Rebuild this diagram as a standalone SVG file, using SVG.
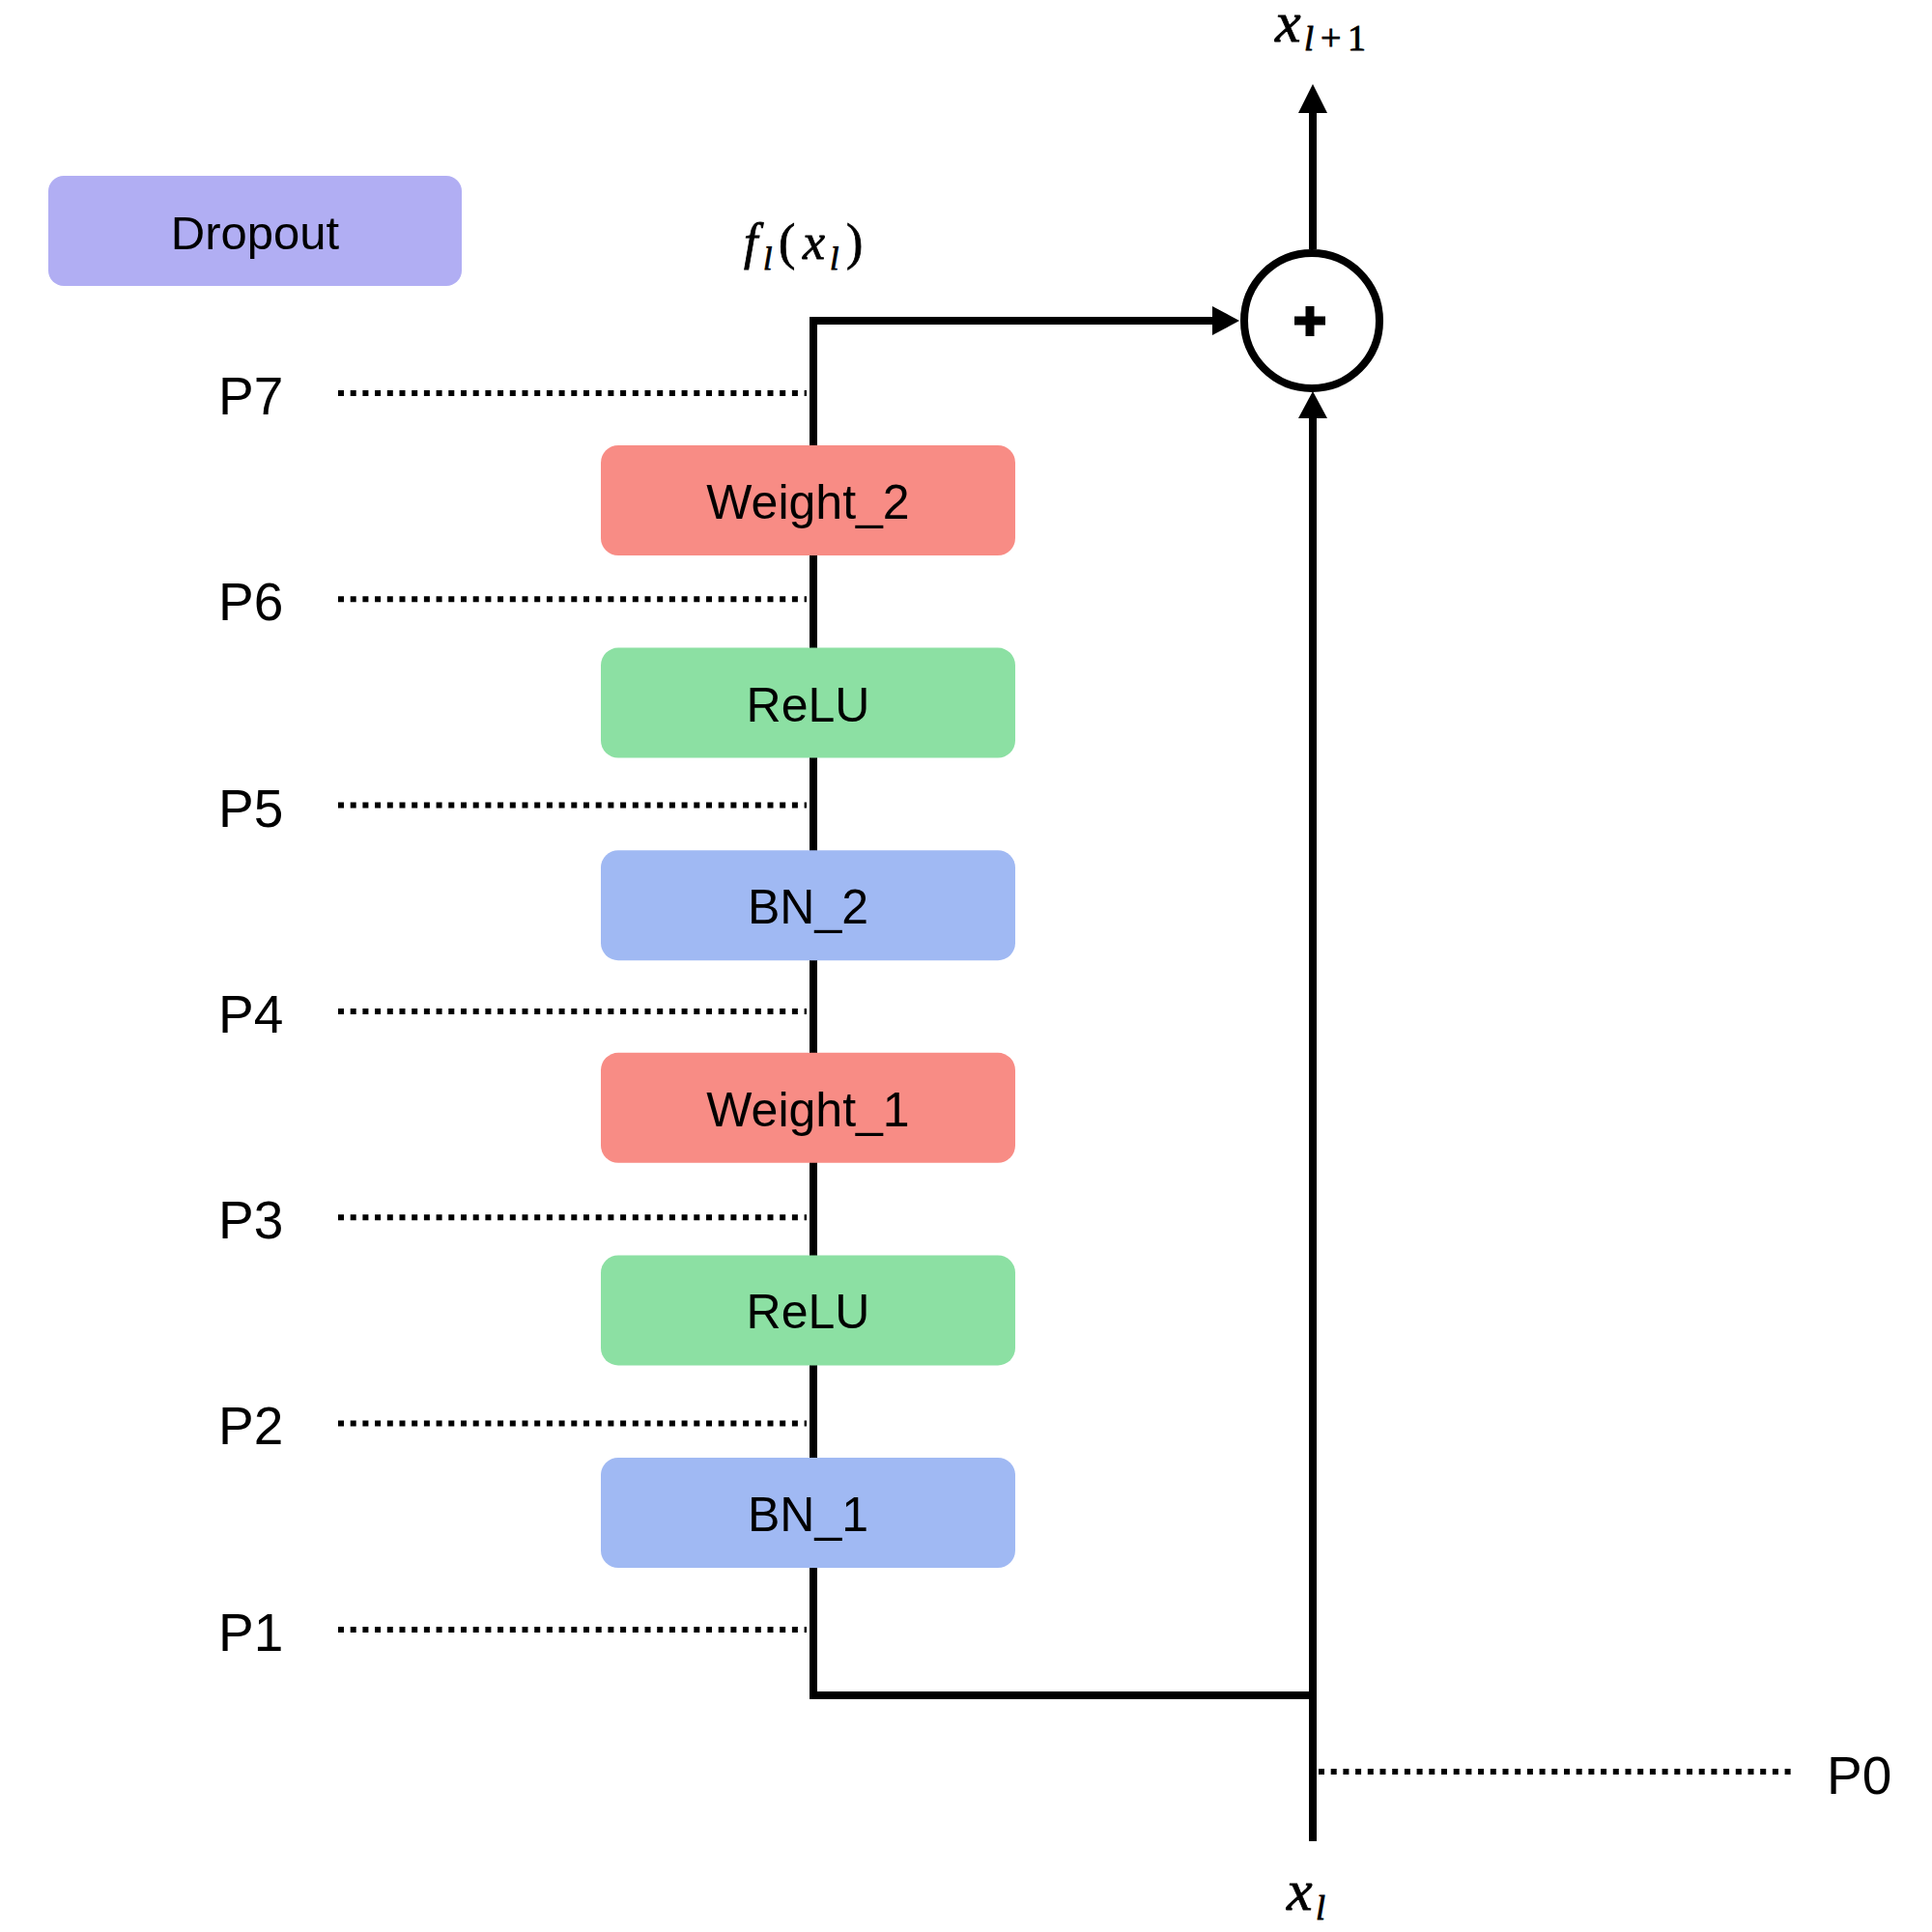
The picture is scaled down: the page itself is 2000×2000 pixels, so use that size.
<svg xmlns="http://www.w3.org/2000/svg" width="2000" height="2000" viewBox="0 0 2000 2000">
<style>
.box{stroke:none}
.lbl{font-family:"Liberation Sans",Arial,sans-serif;font-size:50px;fill:#000;text-anchor:middle}
.plbl{font-family:"Liberation Sans",Arial,sans-serif;font-size:55px;fill:#000}
.dot{stroke:#000;stroke-width:6;stroke-dasharray:6 6.7;fill:none}
.wire{stroke:#000;stroke-width:8;fill:none}
.math{font-family:"Liberation Serif","Times New Roman",serif;font-style:italic;fill:#000;stroke:#000;stroke-width:0.8}
.up{font-style:normal}
</style>
<rect width="2000" height="2000" fill="#fff"/>

<g id="connectors">
<path class="wire" d="M842,1755 L842,332 L1255,332"/>
<path class="wire" d="M838,1755 L1359,1755"/>
<line class="wire" x1="1359" y1="1906" x2="1359" y2="431"/>
<line class="wire" x1="1359" y1="258" x2="1359" y2="116"/>
<polygon points="1255,317 1283,332 1255,347" fill="#000"/>
<polygon points="1344,433 1359,405 1374,433" fill="#000"/>
<polygon points="1344,117 1359,87 1374,117" fill="#000"/>
</g>

<g id="dotted-lines">
<line class="dot" x1="350" y1="407" x2="835" y2="407"/>
<line class="dot" x1="350" y1="620.3" x2="835" y2="620.3"/>
<line class="dot" x1="350" y1="833.6" x2="835" y2="833.6"/>
<line class="dot" x1="350" y1="1047" x2="835" y2="1047"/>
<line class="dot" x1="350" y1="1260.2" x2="835" y2="1260.2"/>
<line class="dot" x1="350" y1="1473.5" x2="835" y2="1473.5"/>
<line class="dot" x1="350" y1="1687" x2="835" y2="1687"/>
<line class="dot" x1="1365" y1="1834" x2="1857" y2="1834"/>
</g>

<g id="p-labels">
<text class="plbl" x="226" y="429">P7</text>
<text class="plbl" x="226" y="642">P6</text>
<text class="plbl" x="226" y="856">P5</text>
<text class="plbl" x="226" y="1069">P4</text>
<text class="plbl" x="226" y="1282">P3</text>
<text class="plbl" x="226" y="1495">P2</text>
<text class="plbl" x="226" y="1709">P1</text>
<text class="plbl" x="1891" y="1857">P0</text>
</g>

<g id="dropout">
<rect class="box" x="50" y="182" width="428" height="114" rx="16" fill="#B1AEF3"/>
<text class="lbl" x="264" y="258" style="font-size:49px">Dropout</text>
</g>

<g id="weight2">
<rect class="box" x="622" y="461" width="429" height="114" rx="18" fill="#F88C85"/>
<text class="lbl" x="836.5" y="537">Weight_2</text>
</g>
<g id="relu2">
<rect class="box" x="622" y="670.6" width="429" height="114" rx="18" fill="#8CE0A3"/>
<text class="lbl" x="836.5" y="746.6">ReLU</text>
</g>
<g id="bn2">
<rect class="box" x="622" y="880.2" width="429" height="114" rx="18" fill="#A0B9F3"/>
<text class="lbl" x="836.5" y="956.2">BN_2</text>
</g>
<g id="weight1">
<rect class="box" x="622" y="1089.8" width="429" height="114" rx="18" fill="#F88C85"/>
<text class="lbl" x="836.5" y="1165.8">Weight_1</text>
</g>
<g id="relu1">
<rect class="box" x="622" y="1299.4" width="429" height="114" rx="18" fill="#8CE0A3"/>
<text class="lbl" x="836.5" y="1375.4">ReLU</text>
</g>
<g id="bn1">
<rect class="box" x="622" y="1509" width="429" height="114" rx="18" fill="#A0B9F3"/>
<text class="lbl" x="836.5" y="1585">BN_1</text>
</g>

<g id="sum">
<circle cx="1358" cy="332" r="70" fill="#fff" stroke="#000" stroke-width="8"/>
<line x1="1340" y1="332" x2="1372" y2="332" stroke="#000" stroke-width="9"/>
<line x1="1356" y1="317" x2="1356" y2="348" stroke="#000" stroke-width="9"/>
</g>

<g id="math-labels">
<text class="math" y="43" style="font-size:60px"><tspan x="1320">x</tspan><tspan x="1350" y="52" style="font-size:36px">l</tspan><tspan class="up" x="1367" y="52" style="font-size:38px">+</tspan><tspan class="up" x="1395" y="52" style="font-size:38px">1</tspan></text>
<text class="math" y="268" style="font-size:52px"><tspan x="770">f</tspan><tspan x="790" y="279" style="font-size:34px">l</tspan><tspan class="up" x="806" y="268">(</tspan><tspan x="831">x</tspan><tspan x="859" y="279" style="font-size:34px">l</tspan><tspan class="up" x="876" y="268">)</tspan></text>
<text class="math" y="1977" style="font-size:60px"><tspan x="1332">x</tspan><tspan x="1362" y="1987" style="font-size:36px">l</tspan></text>
</g>
</svg>
